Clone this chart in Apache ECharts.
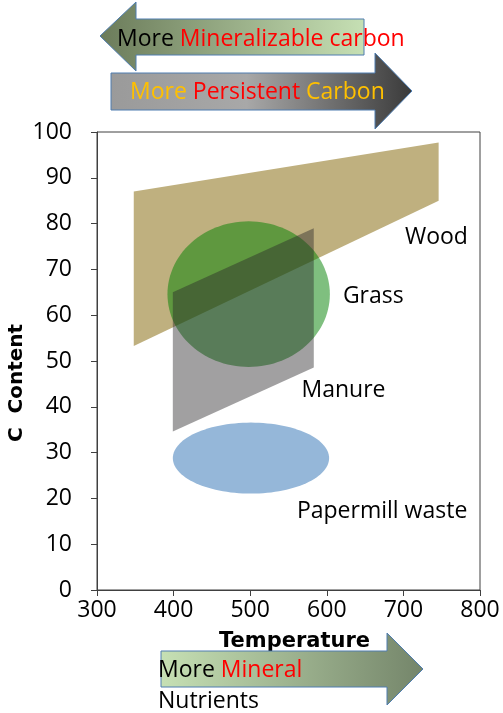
<!DOCTYPE html>
<html><head><meta charset="utf-8">
<script src="https://cdn.jsdelivr.net/npm/echarts@6/dist/echarts.min.js"></script>
<style>html,body{margin:0;padding:0;background:#fff}#c{width:503px;height:713px}</style>
</head><body><div id="c"></div>
<script>
// ---- data ----
const xTicks = [300, 400, 500, 600, 700, 800];
const yTicks = [0, 10, 20, 30, 40, 50, 60, 70, 80, 90, 100];
const woodPoly = [[348, 87], [746, 97.7], [746, 85], [348, 53.3]];
const manurePoly = [[399, 65], [583, 79], [583, 48.6], [399, 34.6]];
// ellipse: [centerX, centerY, radiusX, radiusY]
const grassEllipse = [498, 64.6, 106, 15.9];
const paperEllipse = [501, 28.8, 102, 7.75];
const labelNames = ['Wood', 'Grass', 'Manure', 'Papermill waste'];
const labelAnchors = [[702, 76.9], [621, 64.0], [567, 43.5], [561, 17.1]];

const FONT = "'Open Sans', sans-serif";

function polySeries(name, pts, color, z) {
  return {
    type: 'custom', name: name, z: z, silent: true,
    data: [0],
    renderItem: function (params, api) {
      return { type: 'polygon', shape: { points: pts.map(p => api.coord(p)) }, style: { fill: color } };
    }
  };
}
function ellipsePts(e) {
  const out = [];
  for (let i = 0; i < 120; i++) {
    const t = i / 120 * Math.PI * 2;
    out.push([e[0] + e[2] * Math.cos(t), e[1] + e[3] * Math.sin(t)]);
  }
  return out;
}

const chart = echarts.init(document.getElementById('c'), null, { renderer: 'canvas' });
chart.setOption({
  animation: false,
  backgroundColor: '#fff',
  grid: { left: 97, right: 23, top: 132, bottom: 123, containLabel: false, outerBoundsMode: 'none',
    show: true, borderColor: '#404040', borderWidth: 1, backgroundColor: 'transparent' },
  xAxis: {
    type: 'value', min: xTicks[0], max: xTicks[xTicks.length - 1], interval: 100,
    name: 'Temperature', nameLocation: 'middle', nameGap: 41,
    nameTextStyle: { fontFamily: 'DejaVu Sans', fontWeight: 'bold', fontSize: 21, color: '#000', padding: [0, 0, 0, 12] },
    axisLine: { lineStyle: { color: '#404040', width: 1 } },
    axisTick: { show: true, length: 6, lineStyle: { color: '#404040' } },
    axisLabel: { fontFamily: FONT, fontSize: 23, color: '#000', margin: 9 },
    splitLine: { show: false }
  },
  yAxis: {
    type: 'value', min: yTicks[0], max: yTicks[yTicks.length - 1], interval: 10,
    axisLine: { show: true, lineStyle: { color: '#404040', width: 1 } },
    axisTick: { show: true, length: 6, lineStyle: { color: '#404040' } },
    axisLabel: { fontFamily: FONT, fontSize: 23, color: '#000', margin: 25 },
    splitLine: { show: false }
  },
  series: [
    polySeries('Wood', woodPoly, '#bfb07f', 2),
    polySeries('Grass', ellipsePts(grassEllipse), 'rgba(0,128,0,0.5)', 3),
    polySeries('Manure', manurePoly, 'rgba(40,38,40,0.44)', 4),
    polySeries('Papermill waste', ellipsePts(paperEllipse), '#95b7d9', 4),
    {
      type: 'custom', name: 'labels', z: 6, silent: true,
      data: labelNames.map((n, i) => [labelAnchors[i][0], labelAnchors[i][1], n]),
      renderItem: function (params, api) {
        const p = api.coord([api.value(0), api.value(1)]);
        return { type: 'text', x: p[0], y: p[1],
          style: { text: labelNames[params.dataIndex], fill: '#000', font: '23px ' + FONT, textAlign: 'left', textVerticalAlign: 'middle' } };
      }
    }
  ],
  graphic: [
    { type: 'text', z: 12, x: 17, y: 383, rotation: Math.PI / 2,
      style: { text: 'C  Content', fill: '#000', font: 'bold 20px "DejaVu Sans"', textAlign: 'center', textVerticalAlign: 'middle' } },
    { type: 'polygon', z: 10,
      shape: { points: [[100, 36], [136, 2], [136, 19], [364, 19], [364, 55], [136, 55], [136, 71]] },
      style: { fill: { type: 'linear', x: 0, y: 0, x2: 1, y2: 0, colorStops: [{ offset: 0, color: '#6b7b5a' }, { offset: 1, color: '#c6e0b4' }] }, stroke: '#4f7db0', lineWidth: 1 } },
    { type: 'polygon', z: 11,
      shape: { points: [[111, 73], [375, 73], [375, 53], [412, 91], [375, 129], [375, 110], [111, 110]] },
      style: { fill: { type: 'linear', x: 0, y: 0, x2: 1, y2: 0, colorStops: [{ offset: 0, color: '#9a9a9a' }, { offset: 0.45, color: '#a8a8a8' }, { offset: 1, color: '#3a3a3a' }] }, stroke: '#4f7db0', lineWidth: 1 } },
    { type: 'polygon', z: 10,
      shape: { points: [[161, 651], [387, 651], [387, 633], [423, 669], [387, 705], [387, 687], [161, 687]] },
      style: { fill: { type: 'linear', x: 0, y: 0, x2: 1, y2: 0, colorStops: [{ offset: 0, color: '#c6e0b4' }, { offset: 1, color: '#74856a' }] }, stroke: '#4f7db0', lineWidth: 1 } },
    { type: 'text', z: 12, x: 117, y: 39,
      style: { text: '{k|More }{r|Mineralizable carbon}', font: '23px ' + FONT, textVerticalAlign: 'middle',
        rich: { k: { fill: '#000', font: '23px ' + FONT }, r: { fill: '#ff0000', font: '23px ' + FONT } } } },
    { type: 'text', z: 12, x: 130, y: 92,
      style: { text: '{o|More }{r|Persistent }{o|Carbon}', font: '23px ' + FONT, textVerticalAlign: 'middle',
        rich: { o: { fill: '#ffc000', font: '23px ' + FONT }, r: { fill: '#ff0000', font: '23px ' + FONT } } } },
    { type: 'text', z: 12, x: 158, y: 670,
      style: { text: '{k|More }{r|Mineral}', font: '23px ' + FONT, textVerticalAlign: 'middle',
        rich: { k: { fill: '#000', font: '23px ' + FONT }, r: { fill: '#ff0000', font: '23px ' + FONT } } } },
    { type: 'text', z: 12, x: 158, y: 701,
      style: { text: 'Nutrients', fill: '#000', font: '23px ' + FONT, textVerticalAlign: 'middle' } }
  ]
});
</script></body></html>
